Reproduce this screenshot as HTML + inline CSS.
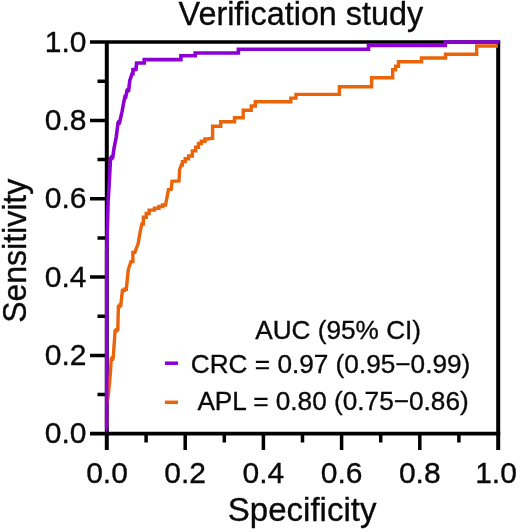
<!DOCTYPE html>
<html><head><meta charset="utf-8"><title>Verification study</title>
<style>
html,body{margin:0;padding:0;background:#fff;}
svg{display:block;}
text{font-family:"Liberation Sans",sans-serif;fill:#0a0a0a;stroke:#0a0a0a;stroke-width:0.35px;}
</style></head>
<body>
<svg width="520" height="532" viewBox="0 0 520 532">
<rect width="520" height="532" fill="#fff"/>
<!-- axes -->
<g stroke="#000" stroke-width="3.6" fill="none" stroke-linecap="butt">
<path d="M90 42H500.2" stroke-width="3.7"/>
<path d="M106.8 42V450" stroke-width="4"/>
<path d="M90 433.6H500.2" stroke-width="3.8"/>
<path d="M498.2 42V450" stroke-width="4"/>
</g>
<g stroke="#000" stroke-width="3.5" fill="none">
<!-- y major -->
<path d="M90 120.4H107M90 198.7H107M90 277H107M90 355.4H107"/>
<!-- y minor -->
<path d="M97.5 81.3H107M97.5 159.6H107M97.5 237.9H107M97.5 316.2H107M97.5 394.5H107"/>
<!-- x major -->
<path d="M185.2 433V450M263.4 433V450M341.6 433V450M419.8 433V450"/>
<!-- x minor -->
<path d="M146.1 433V442.5M224.3 433V442.5M302.5 433V442.5M380.7 433V442.5M458.9 433V442.5"/>
</g>
<!-- curves -->
<path id="apl" fill="none" stroke="#ea640a" stroke-width="3.4" stroke-linejoin="miter" d="M106.6 426L106.7 404L108.2 396L109.5 383L110.6 370L111.2 359.2H112.20V357.90H113.20L115.1 330.9H116.45V329.60H117.80L118.4 306.6H119.60V305.30H120.80L122.4 290.5H124.35V289.20H126.30L128.3 269.5L130.9 261.6H132.90V252.40H134.90L138.2 243.2L140.2 231.7L141.9 224H143.35V217.30H144.80H146.25V213.50H147.70H149.15V210.10H150.60H154.45V208.20H158.30H159.00V206.50H159.70H162.60V205.00H165.50L166.5 200L168.5 189.6L171.3 189.2L172 181.4L179 181L179.6 169.5L181.3 165H182.40V161.60H183.50H185.20V158.80H188.60V156.00H190.30H192.30V150.90H194.30H195.70V147.20H198.50V143.50H199.90H201.30V141.30H202.70H204.95V139.00H207.20L212.6 138.2V126.3H220.7V121.7H234.5V117.7H243.2V110.2H251.2V106H255.3V101.8H290.8V98.1H296V94.4H339.4V86.7H371.6V77.8H392.7V69.8H395.6V66.3H398.5V61.7H421.5V58H445.5V54.2H476.7V46H498"/>
<path id="crc" fill="none" stroke="#8c00d3" stroke-width="3.6" stroke-linejoin="miter" d="M106.7 427L106.7 250L106.9 247L107.2 231.5L107.7 216L108.1 200.8L109.1 185.4L110 168L110.5 158.5H111.65V157.00H112.80L114.1 147.8L116.3 136.6L118 123.2H118.85V122.00H119.70L122 111.8L123.6 103L124.8 97.4H125.35V96.30H125.90L127 90.6H127.85V90.00H128.70L129.8 80.5L132.1 73.7H132.95V69.80H133.80H134.90V69.20H136.00L136.6 63H144.2V59.6H180.9V55.75H195.2V53H238.4V49.2H368.5V45.5H445.2V42.1H499.6"/>
<path id="crctip" d="M104.9 426.5H108.5L106.4 433.6Z" fill="#8c00d3"/>
<!-- legend markers -->
<path d="M164.9 363.2H178" stroke="#8c00d3" stroke-width="3.5"/>
<path d="M164.9 402.3H178" stroke="#ea640a" stroke-width="3.5"/>
<!-- text -->
<text x="300.9" y="25.3" font-size="32.6" text-anchor="middle" textLength="244.6" lengthAdjust="spacingAndGlyphs">Verification study</text>
<text x="302.1" y="521" font-size="32.6" text-anchor="middle" textLength="148.7" lengthAdjust="spacingAndGlyphs">Specificity</text>
<text transform="translate(25.9 250.8) scale(1.05 1) rotate(-90)" font-size="32" text-anchor="middle">Sensitivity</text>
<g font-size="30" text-anchor="end">
<text x="86.5" y="51.6">1.0</text>
<text x="86.5" y="130">0.8</text>
<text x="86.5" y="208.3">0.6</text>
<text x="86.5" y="286.6">0.4</text>
<text x="86.5" y="365">0.2</text>
<text x="86.5" y="443.3">0.0</text>
</g>
<g font-size="30" text-anchor="middle">
<text x="107" y="482.5">0.0</text>
<text x="185.2" y="482.5">0.2</text>
<text x="263.4" y="482.5">0.4</text>
<text x="341.6" y="482.5">0.6</text>
<text x="419.8" y="482.5">0.8</text>
<text x="496" y="482.5">1.0</text>
</g>
<g font-size="26.2">
<text x="255.2" y="339">AUC (95% CI)</text>
<text x="190.8" y="373.2">CRC = 0.97 (0.95−0.99)</text>
<text x="197.4" y="409.8">APL = 0.80 (0.75−0.86)</text>
</g>
</svg>
</body></html>
